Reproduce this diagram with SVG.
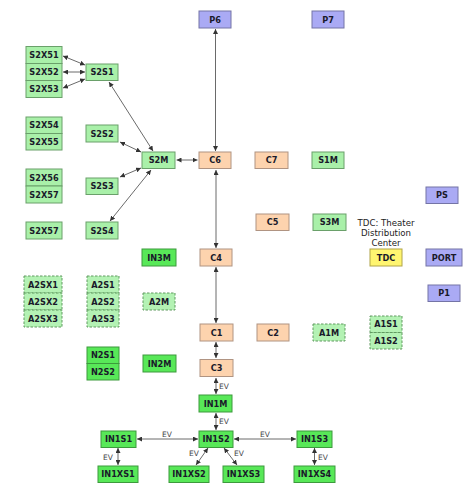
<svg xmlns="http://www.w3.org/2000/svg" width="474" height="500" viewBox="0 0 474 500">
<defs>
<marker id="ah" viewBox="0 0 6 6" refX="6" refY="3" markerWidth="5" markerHeight="5" orient="auto-start-reverse" markerUnits="userSpaceOnUse">
<path d="M0,0 L6,3 L0,6 z" fill="#333"/>
</marker>
<style>
rect{stroke-width:1}
.lg{fill:#a9f0a9;stroke:#6aa06a}
.bg{fill:#58e858;stroke:#3c9a3c}
.dg{fill:#b4f2b4;stroke:#609a60;stroke-dasharray:2.5,1.5}
.or{fill:#fdd3ae;stroke:#b09482}
.bl{fill:#aaaaf4;stroke:#7474a6}
.ye{fill:#fff570;stroke:#b0a448}
.t{font-family:"DejaVu Sans",Verdana,sans-serif;font-weight:bold;font-size:8.2px;fill:#1a1a2a;text-anchor:middle}
.e line{stroke:#444;stroke-width:0.8;marker-start:url(#ah);marker-end:url(#ah)}
.ev{font-family:"DejaVu Sans",sans-serif;font-size:7.5px;fill:#444}
.note{font-family:"DejaVu Sans",sans-serif;font-size:8.6px;fill:#222;text-anchor:middle}
</style>
</defs>
<rect width="474" height="500" fill="#fff"/>
<g id="connectors" class="e">
<line x1="63" y1="56" x2="85" y2="65"/>
<line x1="63" y1="72" x2="85" y2="72"/>
<line x1="63" y1="88" x2="85" y2="79"/>
<line x1="109" y1="82" x2="153" y2="151"/>
<line x1="120" y1="142" x2="141" y2="152"/>
<line x1="120" y1="177" x2="141" y2="168"/>
<line x1="110" y1="221" x2="151" y2="170"/>
<line x1="176.5" y1="160" x2="197.5" y2="160"/>
<line x1="215.5" y1="29" x2="215.5" y2="151"/>
<line x1="216" y1="170" x2="216" y2="248"/>
<line x1="216" y1="267" x2="216" y2="323"/>
<line x1="216" y1="342" x2="216" y2="358"/>
<line x1="216" y1="378" x2="216" y2="394"/>
<line x1="216" y1="413" x2="216" y2="430"/>
<line x1="137" y1="439" x2="198" y2="439"/>
<line x1="234" y1="439" x2="296" y2="439"/>
<line x1="118" y1="448" x2="118" y2="465"/>
<line x1="208" y1="448" x2="196" y2="465"/>
<line x1="224" y1="448" x2="237" y2="465"/>
<line x1="314.5" y1="448" x2="314.5" y2="465"/>
</g>
<g id="edge-labels">
<text class="ev" x="219" y="389">EV</text>
<text class="ev" x="219" y="424">EV</text>
<text class="ev" x="162" y="437">EV</text>
<text class="ev" x="260" y="437">EV</text>
<text class="ev" x="103" y="460">EV</text>
<text class="ev" x="189" y="456">EV</text>
<text class="ev" x="234" y="456">EV</text>
<text class="ev" x="318" y="460">EV</text>
</g>
<g id="P6"><rect class="bl" x="199" y="11" width="32" height="17"/><text class="t" x="215" y="22.5">P6</text></g>
<g id="P7"><rect class="bl" x="312" y="11" width="32" height="17"/><text class="t" x="328" y="22.5">P7</text></g>
<g id="S2X51"><rect class="lg" x="26" y="46.5" width="36" height="17"/><text class="t" x="44" y="58">S2X51</text></g>
<g id="S2X52"><rect class="lg" x="26" y="63.5" width="36" height="17"/><text class="t" x="44" y="75">S2X52</text></g>
<g id="S2X53"><rect class="lg" x="26" y="80.5" width="36" height="17"/><text class="t" x="44" y="92">S2X53</text></g>
<g id="S2S1"><rect class="lg" x="86" y="64" width="32" height="16.5"/><text class="t" x="102" y="75.3">S2S1</text></g>
<g id="S2X54"><rect class="lg" x="26" y="117" width="36" height="16.5"/><text class="t" x="44" y="128.3">S2X54</text></g>
<g id="S2X55"><rect class="lg" x="26" y="133.5" width="36" height="16.5"/><text class="t" x="44" y="144.8">S2X55</text></g>
<g id="S2S2"><rect class="lg" x="86" y="125" width="32" height="17"/><text class="t" x="102" y="136.5">S2S2</text></g>
<g id="S2M"><rect class="lg" x="142" y="152" width="33" height="16.5"/><text class="t" x="158.5" y="163.3">S2M</text></g>
<g id="C6"><rect class="or" x="199" y="152" width="32" height="16.5"/><text class="t" x="215" y="163.3">C6</text></g>
<g id="C7"><rect class="or" x="255" y="152" width="33" height="16.5"/><text class="t" x="271.5" y="163.3">C7</text></g>
<g id="S1M"><rect class="lg" x="312" y="152" width="32" height="16.5"/><text class="t" x="328" y="163.3">S1M</text></g>
<g id="S2X56"><rect class="lg" x="26" y="169" width="36" height="17"/><text class="t" x="44" y="180.5">S2X56</text></g>
<g id="S2X57a"><rect class="lg" x="26" y="186" width="36" height="17"/><text class="t" x="44" y="197.5">S2X57</text></g>
<g id="S2S3"><rect class="lg" x="86" y="178" width="32" height="16.5"/><text class="t" x="102" y="189.3">S2S3</text></g>
<g id="PS"><rect class="bl" x="426" y="187" width="32" height="16.5"/><text class="t" x="442" y="198.3">PS</text></g>
<g id="C5"><rect class="or" x="256" y="214" width="33" height="16.5"/><text class="t" x="272.5" y="225.3">C5</text></g>
<g id="S3M"><rect class="lg" x="313" y="214" width="33" height="16.5"/><text class="t" x="329.5" y="225.3">S3M</text></g>
<g id="S2X57b"><rect class="lg" x="26" y="222" width="36" height="17"/><text class="t" x="44" y="233.5">S2X57</text></g>
<g id="S2S4"><rect class="lg" x="86" y="222" width="32" height="17"/><text class="t" x="102" y="233.5">S2S4</text></g>
<g id="TDC-note"><text class="note" x="386" y="226">TDC: Theater</text><text class="note" x="386" y="236">Distribution</text><text class="note" x="386" y="246">Center</text></g>
<g id="IN3M"><rect class="bg" x="142" y="249" width="34" height="17"/><text class="t" x="159" y="260.5">IN3M</text></g>
<g id="C4"><rect class="or" x="200" y="249" width="32" height="17"/><text class="t" x="216" y="260.5">C4</text></g>
<g id="TDC"><rect class="ye" x="370" y="249" width="32" height="17"/><text class="t" x="386" y="260.5">TDC</text></g>
<g id="PORT"><rect class="bl" x="426" y="249" width="36" height="17"/><text class="t" x="444" y="260.5">PORT</text></g>
<g id="A2SX1"><rect class="dg" x="24" y="276" width="38" height="17"/><text class="t" x="43" y="287.5">A2SX1</text></g>
<g id="A2SX2"><rect class="dg" x="24" y="293" width="38" height="17"/><text class="t" x="43" y="304.5">A2SX2</text></g>
<g id="A2SX3"><rect class="dg" x="24" y="310" width="38" height="17"/><text class="t" x="43" y="321.5">A2SX3</text></g>
<g id="A2S1"><rect class="dg" x="87" y="276" width="32" height="17"/><text class="t" x="103" y="287.5">A2S1</text></g>
<g id="A2S2"><rect class="dg" x="87" y="293" width="32" height="17"/><text class="t" x="103" y="304.5">A2S2</text></g>
<g id="A2S3"><rect class="dg" x="87" y="310" width="32" height="17"/><text class="t" x="103" y="321.5">A2S3</text></g>
<g id="A2M"><rect class="dg" x="143" y="293" width="32" height="17"/><text class="t" x="159" y="304.5">A2M</text></g>
<g id="P1"><rect class="bl" x="428" y="285" width="32" height="16.5"/><text class="t" x="444" y="296.3">P1</text></g>
<g id="A1S1"><rect class="dg" x="370" y="316" width="32" height="16.5"/><text class="t" x="386" y="327.3">A1S1</text></g>
<g id="A1S2"><rect class="dg" x="370" y="332.5" width="32" height="16.5"/><text class="t" x="386" y="343.8">A1S2</text></g>
<g id="C1"><rect class="or" x="200" y="324" width="33" height="17"/><text class="t" x="216.5" y="335.5">C1</text></g>
<g id="C2"><rect class="or" x="257" y="324" width="32" height="17"/><text class="t" x="273" y="335.5">C2</text></g>
<g id="A1M"><rect class="dg" x="313" y="324" width="32" height="17"/><text class="t" x="329" y="335.5">A1M</text></g>
<g id="N2S1"><rect class="bg" x="87" y="347" width="32" height="16.5"/><text class="t" x="103" y="358.3">N2S1</text></g>
<g id="N2S2"><rect class="bg" x="87" y="363.5" width="32" height="16.5"/><text class="t" x="103" y="374.8">N2S2</text></g>
<g id="IN2M"><rect class="bg" x="143" y="355" width="33" height="17"/><text class="t" x="159.5" y="366.5">IN2M</text></g>
<g id="C3"><rect class="or" x="200" y="359.5" width="33" height="17"/><text class="t" x="216.5" y="371">C3</text></g>
<g id="IN1M"><rect class="bg" x="199" y="395" width="33" height="17"/><text class="t" x="215.5" y="406.5">IN1M</text></g>
<g id="IN1S1"><rect class="bg" x="101" y="431" width="35" height="16.5"/><text class="t" x="118.5" y="442.3">IN1S1</text></g>
<g id="IN1S2"><rect class="bg" x="199" y="431" width="34" height="16.5"/><text class="t" x="216" y="442.3">IN1S2</text></g>
<g id="IN1S3"><rect class="bg" x="297" y="431" width="35" height="16.5"/><text class="t" x="314.5" y="442.3">IN1S3</text></g>
<g id="IN1XS1"><rect class="bg" x="98" y="466" width="40" height="16.5"/><text class="t" x="118" y="477.3">IN1XS1</text></g>
<g id="IN1XS2"><rect class="bg" x="169" y="466" width="40" height="16.5"/><text class="t" x="189" y="477.3">IN1XS2</text></g>
<g id="IN1XS3"><rect class="bg" x="223" y="466" width="41" height="16.5"/><text class="t" x="243.5" y="477.3">IN1XS3</text></g>
<g id="IN1XS4"><rect class="bg" x="294" y="466" width="41" height="16.5"/><text class="t" x="314.5" y="477.3">IN1XS4</text></g>
</svg>
